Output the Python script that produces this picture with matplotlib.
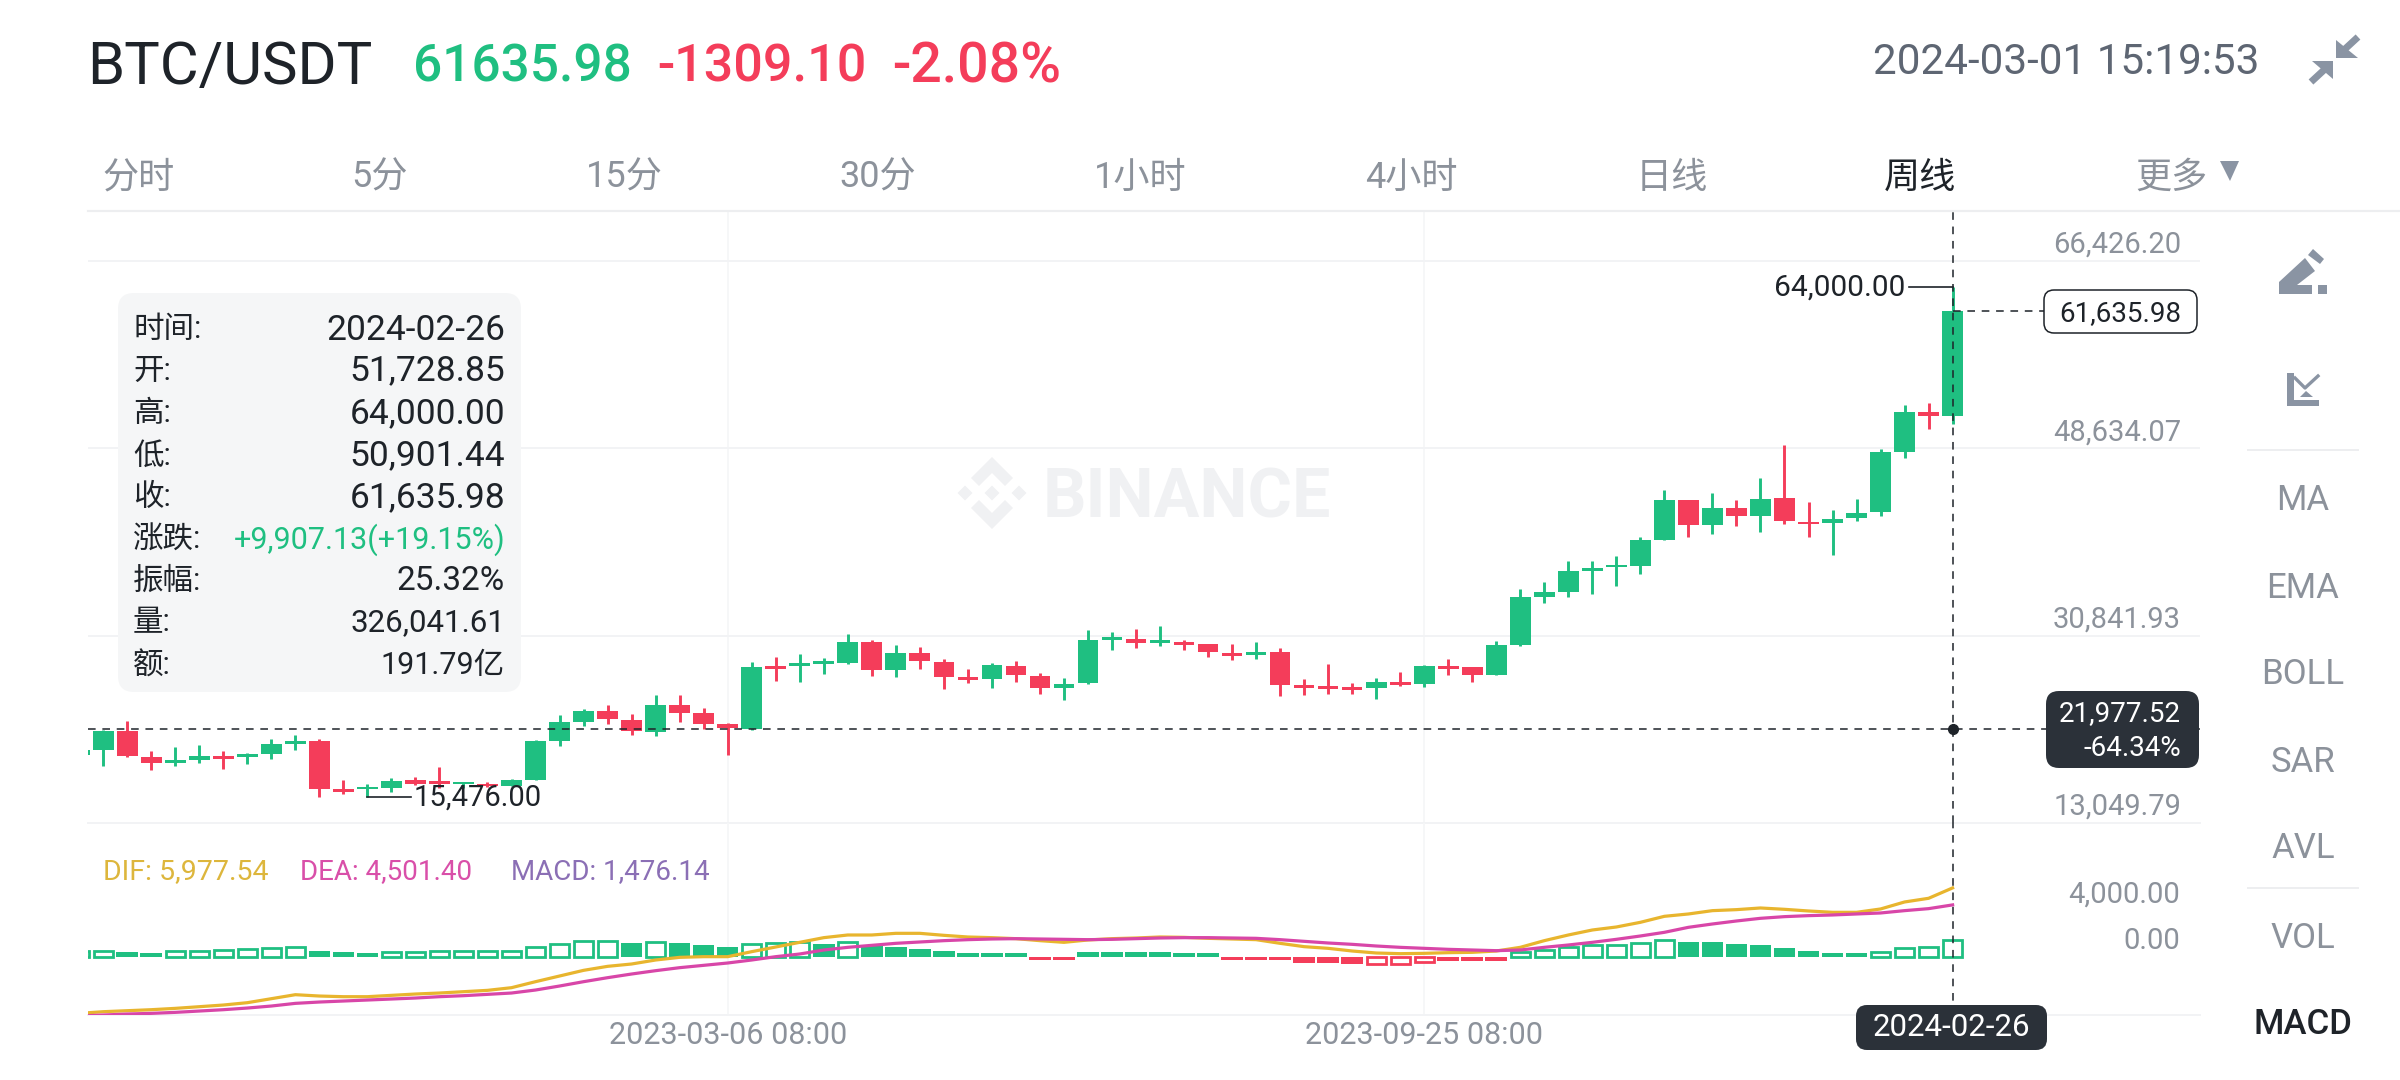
#!/usr/bin/env python3
"""BTC/USDT weekly K-line screenshot with MACD panel."""

import numpy as np
import matplotlib
matplotlib.use("Agg")
import matplotlib.pyplot as plt
from matplotlib.patches import FancyBboxPatch, Polygon

plt.rcParams['font.family'] = ['Roboto', 'Noto Sans CJK SC', 'DejaVu Sans']

# weekly candles, first one is cut off by the left edge of the panel
opens = [19506, 19981, 21786, 19348, 18715, 19031, 19411, 19284, 19570, 20551, 20836,
         16277, 16245, 16340, 17100, 17037, 16720, 16752, 16593, 17100, 20836, 22672,
         23685, 22862, 21722, 24223, 23495, 22419, 21975, 27927, 27927, 28180, 28275,
         30238, 27579, 29193, 28370, 26882, 26724, 27990, 27040, 25901, 26312, 30428,
         30555, 30112, 30238, 30017, 29225, 29003, 29257, 26154, 26059, 25932, 25837,
         26471, 26249, 27991, 27832, 27104, 29954, 34513, 34988, 37013, 37330, 37457,
         39927, 43726, 41351, 42934, 42238, 43884, 41668, 41541, 41985, 42554, 48285,
         52084, 51728.85]
highs = [20000, 21860, 22767, 19918, 20298, 20424, 19918, 19696, 21026, 21406, 21026,
         17132, 16752, 17290, 17385, 18335, 16974, 16974, 17195, 20931, 23305, 23907,
         24223, 23400, 25205, 25205, 23970, 22577, 28370, 28845, 29130, 28718, 30966,
         30428, 29985, 29795, 28592, 27642, 28212, 28434, 27326, 26787, 31378, 31220,
         31473, 31758, 30428, 30048, 30017, 30206, 29637, 26756, 28117, 26376, 26851,
         27420, 28022, 28592, 27896, 30334, 35241, 35937, 37932, 37932, 38407, 40243,
         44676, 43726, 44359, 43726, 45847, 48918, 43536, 42776, 43852, 48538, 52749,
         52970, 64000.00]
lows = [19400, 18493, 19320, 18081, 18493, 18715, 18145, 18620, 19126, 20013, 15549,
        15770, 15476, 16023, 16657, 16340, 16340, 16435, 16562, 17100, 20361, 22260,
        22450, 21406, 21311, 22672, 21944, 19506, 21880, 26534, 26471, 27167, 28149,
        27040, 26914, 27642, 25742, 26312, 25837, 26439, 25299, 24729, 26249, 29478,
        29700, 29890, 29478, 28782, 28529, 28624, 25109, 25236, 25299, 25299, 24856,
        26059, 25933, 27073, 26471, 27104, 29859, 33975, 34513, 34766, 35589, 36666,
        39927, 40180, 40528, 41256, 40718, 41446, 40243, 38502, 41763, 42206, 47683,
        50469, 50901.44]
closes = [19981, 21786, 19411, 18778, 19031, 19380, 19126, 19570, 20551, 20836, 16308,
          15960, 16498, 17037, 16784, 16720, 16974, 16562, 17100, 20804, 22640, 23653,
          22925, 21786, 24223, 23527, 22419, 22039, 27895, 27642, 28212, 28434, 30238,
          27579, 29193, 28402, 26914, 26597, 28022, 27072, 25901, 26281, 30428, 30713,
          30112, 30428, 29922, 29288, 28940, 29288, 26154, 25869, 25774, 25648, 26471,
          26186, 27927, 27674, 27104, 29922, 34481, 34956, 36982, 37267, 37584, 39927,
          43726, 41351, 42934, 42238, 43852, 41700, 41415, 41953, 42491, 48253, 52053,
          51736, 61635.98]

dif = [-4930, -4785, -4698, -4611, -4495, -4350, -4205, -4002, -3654, -3306, -3422,
       -3480, -3480, -3364, -3248, -3161, -3045, -2929, -2697, -2175, -1682, -1189,
       -841, -638, -290, -58, 0, 0, 435, 841, 1247, 1653, 1885, 1885, 2030, 2030, 1856,
       1711, 1653, 1566, 1392, 1247, 1450, 1566, 1624, 1711, 1682, 1595, 1537, 1479,
       1160, 870, 725, 493, 319, 261, 290, 348, 377, 493, 812, 1392, 1885, 2320, 2581,
       2987, 3509, 3712, 4002, 4089, 4234, 4118, 3973, 3857, 3857, 4147, 4756, 5075,
       5977.54]
dea = [-5162, -5075, -4988, -4930, -4843, -4727, -4611, -4466, -4292, -4060, -3944,
       -3857, -3770, -3683, -3596, -3480, -3393, -3277, -3161, -2900, -2552, -2175,
       -1827, -1508, -1218, -957, -754, -551, -290, 0, 232, 580, 812, 986, 1160, 1276,
       1392, 1479, 1537, 1566, 1537, 1508, 1479, 1508, 1566, 1624, 1653, 1653, 1624,
       1595, 1479, 1334, 1189, 1073, 928, 812, 725, 638, 580, 522, 580, 812, 1015, 1247,
       1508, 1798, 2117, 2552, 2842, 3103, 3335, 3480, 3567, 3625, 3712, 3799, 4002,
       4176, 4501.40]
macd = [464, 464, 377, 348, 464, 522, 580, 638, 783, 870, 522, 406, 348, 435, 435, 464,
        464, 493, 522, 812, 1102, 1334, 1363, 1189, 1305, 1189, 986, 812, 1102, 1218,
        1276, 1102, 1276, 986, 870, 696, 464, 290, 290, 290, -290, -290, 406, 406, 406,
        406, 290, 290, -290, -290, -320, -522, -522, -609, -667, -638, -493, -348, -348,
        -348, 435, 580, 812, 986, 986, 1218, 1479, 1247, 1247, 1073, 986, 725, 464, 290,
        290, 435, 754, 870, 1476.14]
# week numbers whose histogram bar is hollow
macd_hollow = [-1, 0, 3, 4, 5, 6, 7, 8, 12, 13, 14, 15, 16, 17, 18, 19, 20, 21, 23, 27, 28,
               29, 31, 53, 54, 55, 59, 60, 61, 62, 63, 64, 65, 74, 75, 76, 77]

weeks = np.arange(-1, 78)
last_week = 77
date_ticks = [26, 55]
date_labels = ['2023-03-06 08:00', '2023-09-25 08:00']
price_ticks = [66426.20, 48634.07, 30841.93, 13049.79]
macd_ticks = [4000.00, 0.00]
cursor_price = 21977.52
cursor_pct = '-64.34%'
low_week, low_price = 11, 15476.00
high_week, high_price = 77, 64000.00

tabs = ['分时', '5分', '15分', '30分', '1小时', '4小时', '日线', '周线', '更多']
side_items = ['MA', 'EMA', 'BOLL', 'SAR', 'AVL', 'VOL', 'MACD']
info_labels = ['时间:', '开:', '高:', '低:', '收:', '涨跌:', '振幅:', '量:', '额:']
info_values = ['2024-02-26', '51,728.85', '64,000.00', '50,901.44', '61,635.98',
               '+9,907.13(+19.15%)', '25.32%', '326,041.61', '191.79亿']

GREEN = '#1FBF81'
RED = '#F43D5A'
DARK = '#1E2329'
GREY = '#8C929B'
ICON = '#8A94A3'
GRID = '#F2F3F5'
BOX = '#2B3139'

W, H = 2400, 1080


def panel(fig, left, top, right, bottom, **kwargs):
    """axes placed by screenshot pixels"""
    return fig.add_axes([left / W, 1 - bottom / H, (right - left) / W, (bottom - top) / H], **kwargs)


def draw_candles(ax):
    colors = [GREEN if c >= o else RED for o, c in zip(opens, closes)]
    ax.vlines(weeks, lows, highs, colors=colors, linewidth=2.1, zorder=3)
    o = np.array(opens)
    c = np.array(closes)
    ax.bar(weeks, np.abs(c - o), bottom=np.minimum(o, c), width=0.86, color=colors, linewidth=0, zorder=3)


def draw_macd(ax):
    for week, value in zip(weeks, macd):
        color = GREEN if value >= 0 else RED
        if week in macd_hollow:
            ax.bar(week, value, width=0.80, facecolor='white', edgecolor=color, linewidth=2.0, zorder=3)
        else:
            ax.bar(week, value, width=0.90, color=color, linewidth=0, zorder=3)
    ax.plot(weeks, dif, color='#E8B52E', linewidth=2.3, zorder=4)
    ax.plot(weeks, dea, color='#D846A8', linewidth=2.3, zorder=5)


def style_panel(ax):
    ax.set_xlim(-0.633, 87.30)
    ax.patch.set_alpha(0)
    for side in ['top', 'left', 'right']:
        ax.spines[side].set_visible(False)
    ax.spines['bottom'].set_color(GRID)
    ax.spines['bottom'].set_linewidth(1.4)
    ax.tick_params(length=0)
    ax.set_xticks(date_ticks)
    ax.grid(axis='x', color='#F6F7F8', linewidth=1.4)


def rounded(ax, x0, y0, x1, y1, rad, **kwargs):
    ax.add_patch(FancyBboxPatch((x0 + rad, y0 + rad), x1 - x0 - 2 * rad, y1 - y0 - 2 * rad,
                                boxstyle=f'round,pad={rad},rounding_size={rad}', **kwargs))


def draw_watermark(ax):
    c = '#F0F1F3'
    cx, cy = 992, 493
    for dx in [-27, 0, 27]:
        ax.add_patch(Polygon([(cx + dx, cy - 7.5), (cx + dx + 7.5, cy), (cx + dx, cy + 7.5), (cx + dx - 7.5, cy)], color=c, lw=0))
    chevron = np.array([(0, -36), (21, -15), (13, -7), (0, -20), (-13, -7), (-21, -15)], dtype=float)
    ax.add_patch(Polygon(chevron + [cx, cy], color=c, lw=0))
    ax.add_patch(Polygon(chevron * [1, -1] + [cx, cy], color=c, lw=0))
    ax.text(1187, 499, 'BINANCE', fontsize=49, fontweight='bold', color=c, ha='center', va='center')


def draw_header(ax):
    ax.text(87, 67, 'BTC/USDT', fontsize=43, color=DARK, va='center')
    ax.text(413, 67, '61635.98', fontsize=37, color=GREEN, fontweight='medium', va='center')
    ax.text(657, 67, '-1309.10', fontsize=37.5, color=RED, fontweight='medium', va='center')
    ax.text(892, 67, '-2.08%', fontsize=40, color=RED, fontweight='medium', va='center')
    ax.text(2259, 63, '2024-03-01 15:19:53', fontsize=30.3, color='#5E6673', ha='right', va='center')

    # 收起图标
    ax.add_patch(Polygon([(2336, 58), (2336, 40), (2358, 58)], color=ICON, lw=0))
    ax.plot([2345, 2358], [49, 37], color=ICON, lw=5, solid_capstyle='butt')
    ax.add_patch(Polygon([(2333, 61), (2333, 79), (2312, 61)], color=ICON, lw=0))
    ax.plot([2324, 2311], [70, 82], color=ICON, lw=5, solid_capstyle='butt')

    centers = [139, 380, 624, 878, 1140, 1411, 1672, 1920, 2171]
    for name, x in zip(tabs, centers):
        ax.text(x, 178, name, fontsize=26, color=DARK if name == '周线' else GREY, ha='center', va='center')
    ax.add_patch(Polygon([(2220, 161), (2239, 161), (2230, 181)], color=ICON, lw=0))
    ax.plot([88, 2400], [210.5, 210.5], color='#EDEEF0', lw=1.6)


def draw_side_menu(ax):
    ys = [501, 589, 674, 762, 849, 938, 1025]
    for name, y in zip(side_items, ys):
        ax.text(2303, y, name, fontsize=25, color=DARK if name == 'MACD' else GREY,
                fontweight='medium' if name == 'MACD' else 'normal', ha='center', va='center')
    ax.plot([2248, 2358], [450, 450], color='#EDEEF0', lw=1.4)
    ax.plot([2248, 2358], [888, 888], color='#EDEEF0', lw=1.4)

    # 画线 / 指标图标
    ax.add_patch(Polygon([(2279, 294), (2279, 282), (2305, 258), (2315, 271), (2297, 285), (2312, 285), (2312, 294)], color=ICON, lw=0))
    ax.add_patch(Polygon([(2308, 255), (2313, 249), (2324, 259), (2320, 264)], color=ICON, lw=0))
    ax.add_patch(Polygon([(2318, 285), (2327, 285), (2327, 294), (2318, 294)], color=ICON, lw=0))
    ax.add_patch(Polygon([(2287, 373), (2294, 373), (2294, 400), (2319, 400), (2319, 406), (2287, 406)], color=ICON, lw=0))
    ax.plot([2295, 2305, 2318], [378, 388, 376], color=ICON, lw=2.4)
    ax.add_patch(Polygon([(2300, 397), (2306, 391), (2313, 397)], color=ICON, lw=0))


def draw_info_box(ax):
    rounded(ax, 118, 293, 521, 692, 16, facecolor='#F5F6F7', edgecolor='none')
    ys = [330, 371, 414, 456, 498, 540, 581, 623, 666]
    sizes = [25.5, 25.5, 25.5, 25.5, 25.5, 22, 24, 22.5, 22]
    for label, value, y, size in zip(info_labels, info_values, ys, sizes):
        color = GREEN if value.startswith('+') else DARK
        ax.text(133, y, label, fontsize=22, color=DARK, va='center')
        ax.text(505, y, value, fontsize=size, color=color, ha='right', va='center')


def draw_price_tags(ax):
    rounded(ax, 2044, 290, 2197, 333, 10, facecolor='white', edgecolor=DARK, linewidth=1.1)
    ax.text(2120, 314, f'{closes[-1]:,.2f}', fontsize=20, color=DARK, ha='center', va='center')

    rounded(ax, 2046, 691, 2199, 768, 13, facecolor=BOX, edgecolor='none')
    ax.text(2181, 714, f'{cursor_price:,.2f}', fontsize=20, color='white', ha='right', va='center')
    ax.text(2181, 748, cursor_pct, fontsize=20, color='white', ha='right', va='center')

    rounded(ax, 1856, 1005, 2047, 1050, 11, facecolor=BOX, edgecolor='none')
    ax.text(1951, 1028, '2024-02-26', fontsize=22.5, color='white', ha='center', va='center')


def main():
    fig = plt.figure(figsize=(W / 100, H / 100), dpi=100, facecolor='white')

    bg = panel(fig, 0, 0, W, H, zorder=0)
    bg.set_xlim(0, W)
    bg.set_ylim(H, 0)
    bg.axis('off')
    draw_watermark(bg)

    # K线主图
    ax = panel(fig, 88, 211, 2200, 823, zorder=2)
    style_panel(ax)
    ax.set_ylim(13049.79, 71175)
    ax.set_yticks(price_ticks)
    ax.set_yticklabels([])
    ax.set_xticklabels([])
    ax.grid(axis='y', color=GRID, linewidth=1.4)
    ax.set_axisbelow(True)
    draw_candles(ax)
    trans = ax.get_yaxis_transform()
    for tick in price_ticks:
        ax.annotate(f'{tick:,.2f}', (0.991, tick), xycoords=trans, xytext=(0, 1.5), textcoords='offset points',
                    fontsize=21, color=GREY, ha='right', va='bottom')

    dash = (0, (5, 4.4))
    ax.axhline(cursor_price, color=DARK, linewidth=1.1, linestyle=dash, zorder=4)
    ax.axvline(last_week, color=DARK, linewidth=1.1, linestyle=dash, zorder=4)
    ax.plot([last_week, 81.5], [closes[-1], closes[-1]], color=DARK, linewidth=1.1, linestyle=dash, zorder=4)
    ax.plot([last_week], [cursor_price], 'o', color=DARK, markersize=7, zorder=5)

    ax.plot([low_week, 12.8], [low_price, low_price], color=DARK, linewidth=1.2, zorder=4)
    ax.text(12.94, low_price - 60, f'{low_price:,.2f}', fontsize=21, color=DARK, va='center', zorder=4)
    ax.plot([75.2, high_week], [high_price, high_price], color=DARK, linewidth=1.2, zorder=4)
    ax.text(75.05, high_price - 60, f'{high_price:,.2f}', fontsize=21.5, color=DARK, ha='right', va='center', zorder=4)

    # MACD 副图
    ax2 = panel(fig, 88, 823, 2200, 1015, zorder=2)
    style_panel(ax2)
    ax2.set_ylim(-5072, 11623)
    ax2.set_yticks([])
    ax2.set_xticklabels(date_labels, fontsize=22, color=GREY)
    ax2.tick_params(axis='x', pad=4)
    ax2.set_axisbelow(True)
    draw_macd(ax2)
    ax2.axvline(last_week, color=DARK, linewidth=1.1, linestyle=dash, zorder=6)
    trans2 = ax2.get_yaxis_transform()
    for tick in macd_ticks:
        ax2.annotate(f'{tick:,.2f}', (0.9906, tick), xycoords=trans2, xytext=(0, 1.5), textcoords='offset points',
                     fontsize=21, color=GREY, ha='right', va='bottom')

    ui = panel(fig, 0, 0, W, H, zorder=5)
    ui.set_xlim(0, W)
    ui.set_ylim(H, 0)
    ui.axis('off')
    draw_header(ui)
    draw_side_menu(ui)
    draw_info_box(ui)
    draw_price_tags(ui)
    ui.text(103, 872, f'DIF: {dif[-1]:,.2f}', fontsize=20.5, color='#DDB63C', va='center')
    ui.text(300, 872, f'DEA: {dea[-1]:,.2f}', fontsize=20, color='#D94FA9', va='center')
    ui.text(511, 872, f'MACD: {macd[-1]:,.2f}', fontsize=20, color='#8B6FB5', va='center')

    fig.savefig('out.png', dpi=100)


if __name__ == "__main__":
    assert all(len(a) == len(weeks) for a in [opens, highs, lows, closes, dif, dea, macd])
    main()
